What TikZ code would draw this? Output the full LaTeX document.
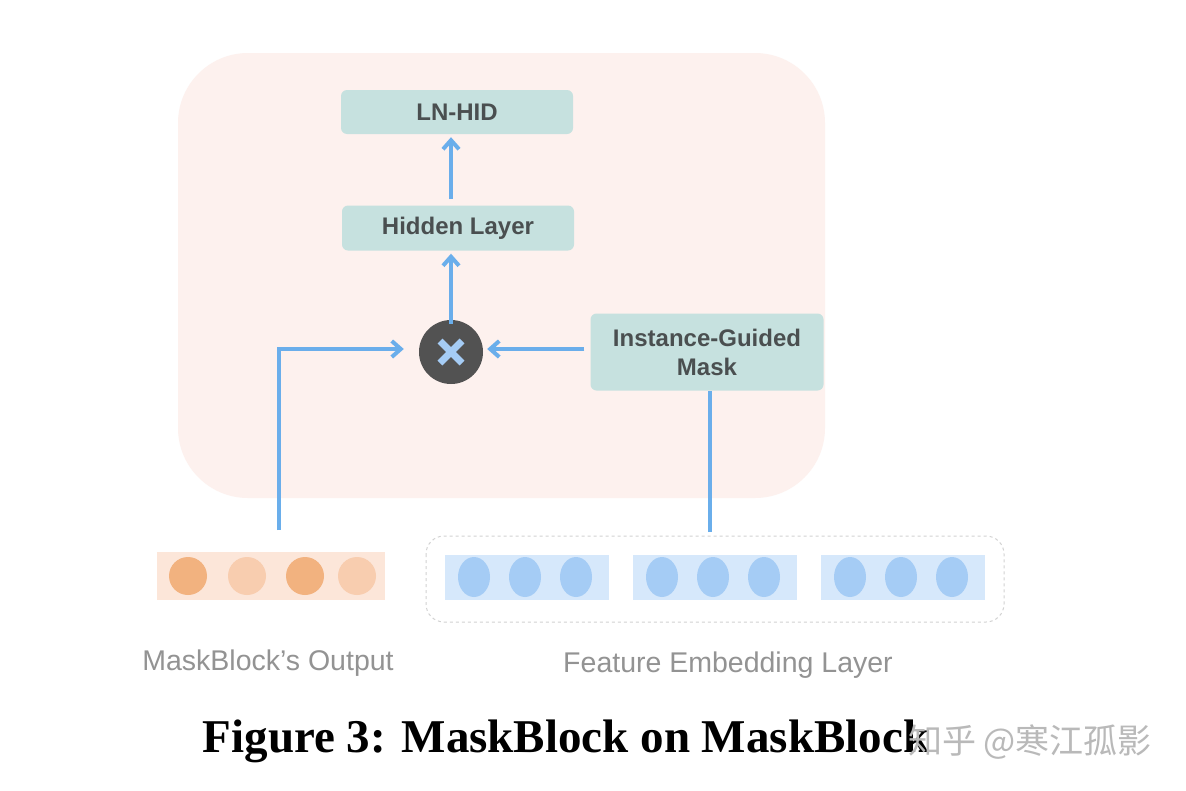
\documentclass[tikz,border=0pt]{standalone}
\usepackage{fontspec}
\usetikzlibrary{arrows.meta,shapes.geometric}
\setmainfont{Liberation Sans}
\newfontfamily\cjk{Noto Sans CJK SC}
\newfontfamily\capfont{Liberation Serif}
\begin{document}
\begin{tikzpicture}[x=1pt,y=-1pt,
  box/.style={fill=boxc,rounded corners=6pt,inner sep=0pt,font=\fontsize{24}{29}\selectfont\bfseries,text=txt,align=center},
  arr/.style={draw=arrc,line width=4.5pt,-{Straight Barb[length=9pt,width=16pt,line width=4pt]}},
  ln/.style={draw=arrc,line width=4.5pt},
  lbl/.style={font=\fontsize{28.5}{32}\selectfont,text=gray!85}]
\definecolor{boxc}{HTML}{C6E1DF}
\definecolor{txt}{HTML}{4A4F50}
\definecolor{arrc}{HTML}{6AAEEB}
\definecolor{bgp}{HTML}{FDF1EE}
\definecolor{orl}{HTML}{FCE6D9}
\definecolor{ord}{HTML}{F2B27F}
\definecolor{orm}{HTML}{F8CDAF}
\definecolor{bll}{HTML}{D6E8FB}
\definecolor{blc}{HTML}{A5CCF5}
\useasboundingbox (0,0) rectangle (1186,790);
\fill[white] (0,0) rectangle (1186,790);
\fill[bgp,rounded corners=70pt] (178,53) rectangle (825,498);
\node[box,minimum width=232pt,minimum height=44pt] (ln) at (457,112) {LN-HID};
\node[box,minimum width=232pt,minimum height=45pt] (hid) at (458,228) {Hidden Layer};
\node[box,minimum width=233pt,minimum height=77pt] (mask) at (707,352) {Instance-Guided\\Mask};
\node[circle,fill=black!68,minimum size=64pt,inner sep=0pt] (mul) at (451,352) {};
\draw[blc,line width=7pt] (440,341) -- (462,363) (440,363) -- (462,341);
\coordinate (s1) at (279,530);
\coordinate (c1) at (279,349);
\coordinate (s2) at (710,532);
\draw[arr] (hid.north -| mul) ++(0,-6) -- ([yshift=-3pt]ln.south -| mul);
\draw[arr] ([yshift=-4pt]mul.north) -- ([yshift=-3pt]hid.south -| mul);
\draw[arr] (s1) -- (c1) -- ([xshift=-15pt]mul.west |- c1);
\draw[arr] ([xshift=-6pt]mask.west |- c1) -- ([xshift=4pt]mul.east |- c1);
\draw[ln] (s2) -- (s2 |- mask.south);
% output strip
\fill[orl] (157,552) rectangle (385,600);
\foreach \x/\c [count=\i] in {188/ord,247/orm,305/ord,357/orm}
  \node[circle,fill=\c,minimum size=38pt,inner sep=0pt] (o\i) at (\x,576) {};
% embedding
\draw[gray!35,dashed,line width=1pt,rounded corners=18pt] (426,536) rectangle (1004,622);
\foreach \s [count=\j] in {445,633,821}{
  \fill[bll] (\s,555) rectangle (\s+164,600);
  \foreach \k in {0,1,2}
    \node[ellipse,fill=blc,minimum width=32pt,minimum height=40pt,inner sep=0pt] (e\j\k) at (\s+29+51*\k,577) {};
}
\node[lbl] (t1) at (268,663) {MaskBlock’s Output};
\node[lbl] (t2) at (728,665) {Feature Embedding Layer};
\node[font=\capfont\fontsize{47}{50}\selectfont\bfseries] (cap) at (566,741) {Figure 3: MaskBlock on MaskBlock};
\node[font=\cjk\fontsize{34}{38}\selectfont,text=gray!55] (wm) at (1030,742) {知乎 @寒江孤影};
\end{tikzpicture}
\end{document}
